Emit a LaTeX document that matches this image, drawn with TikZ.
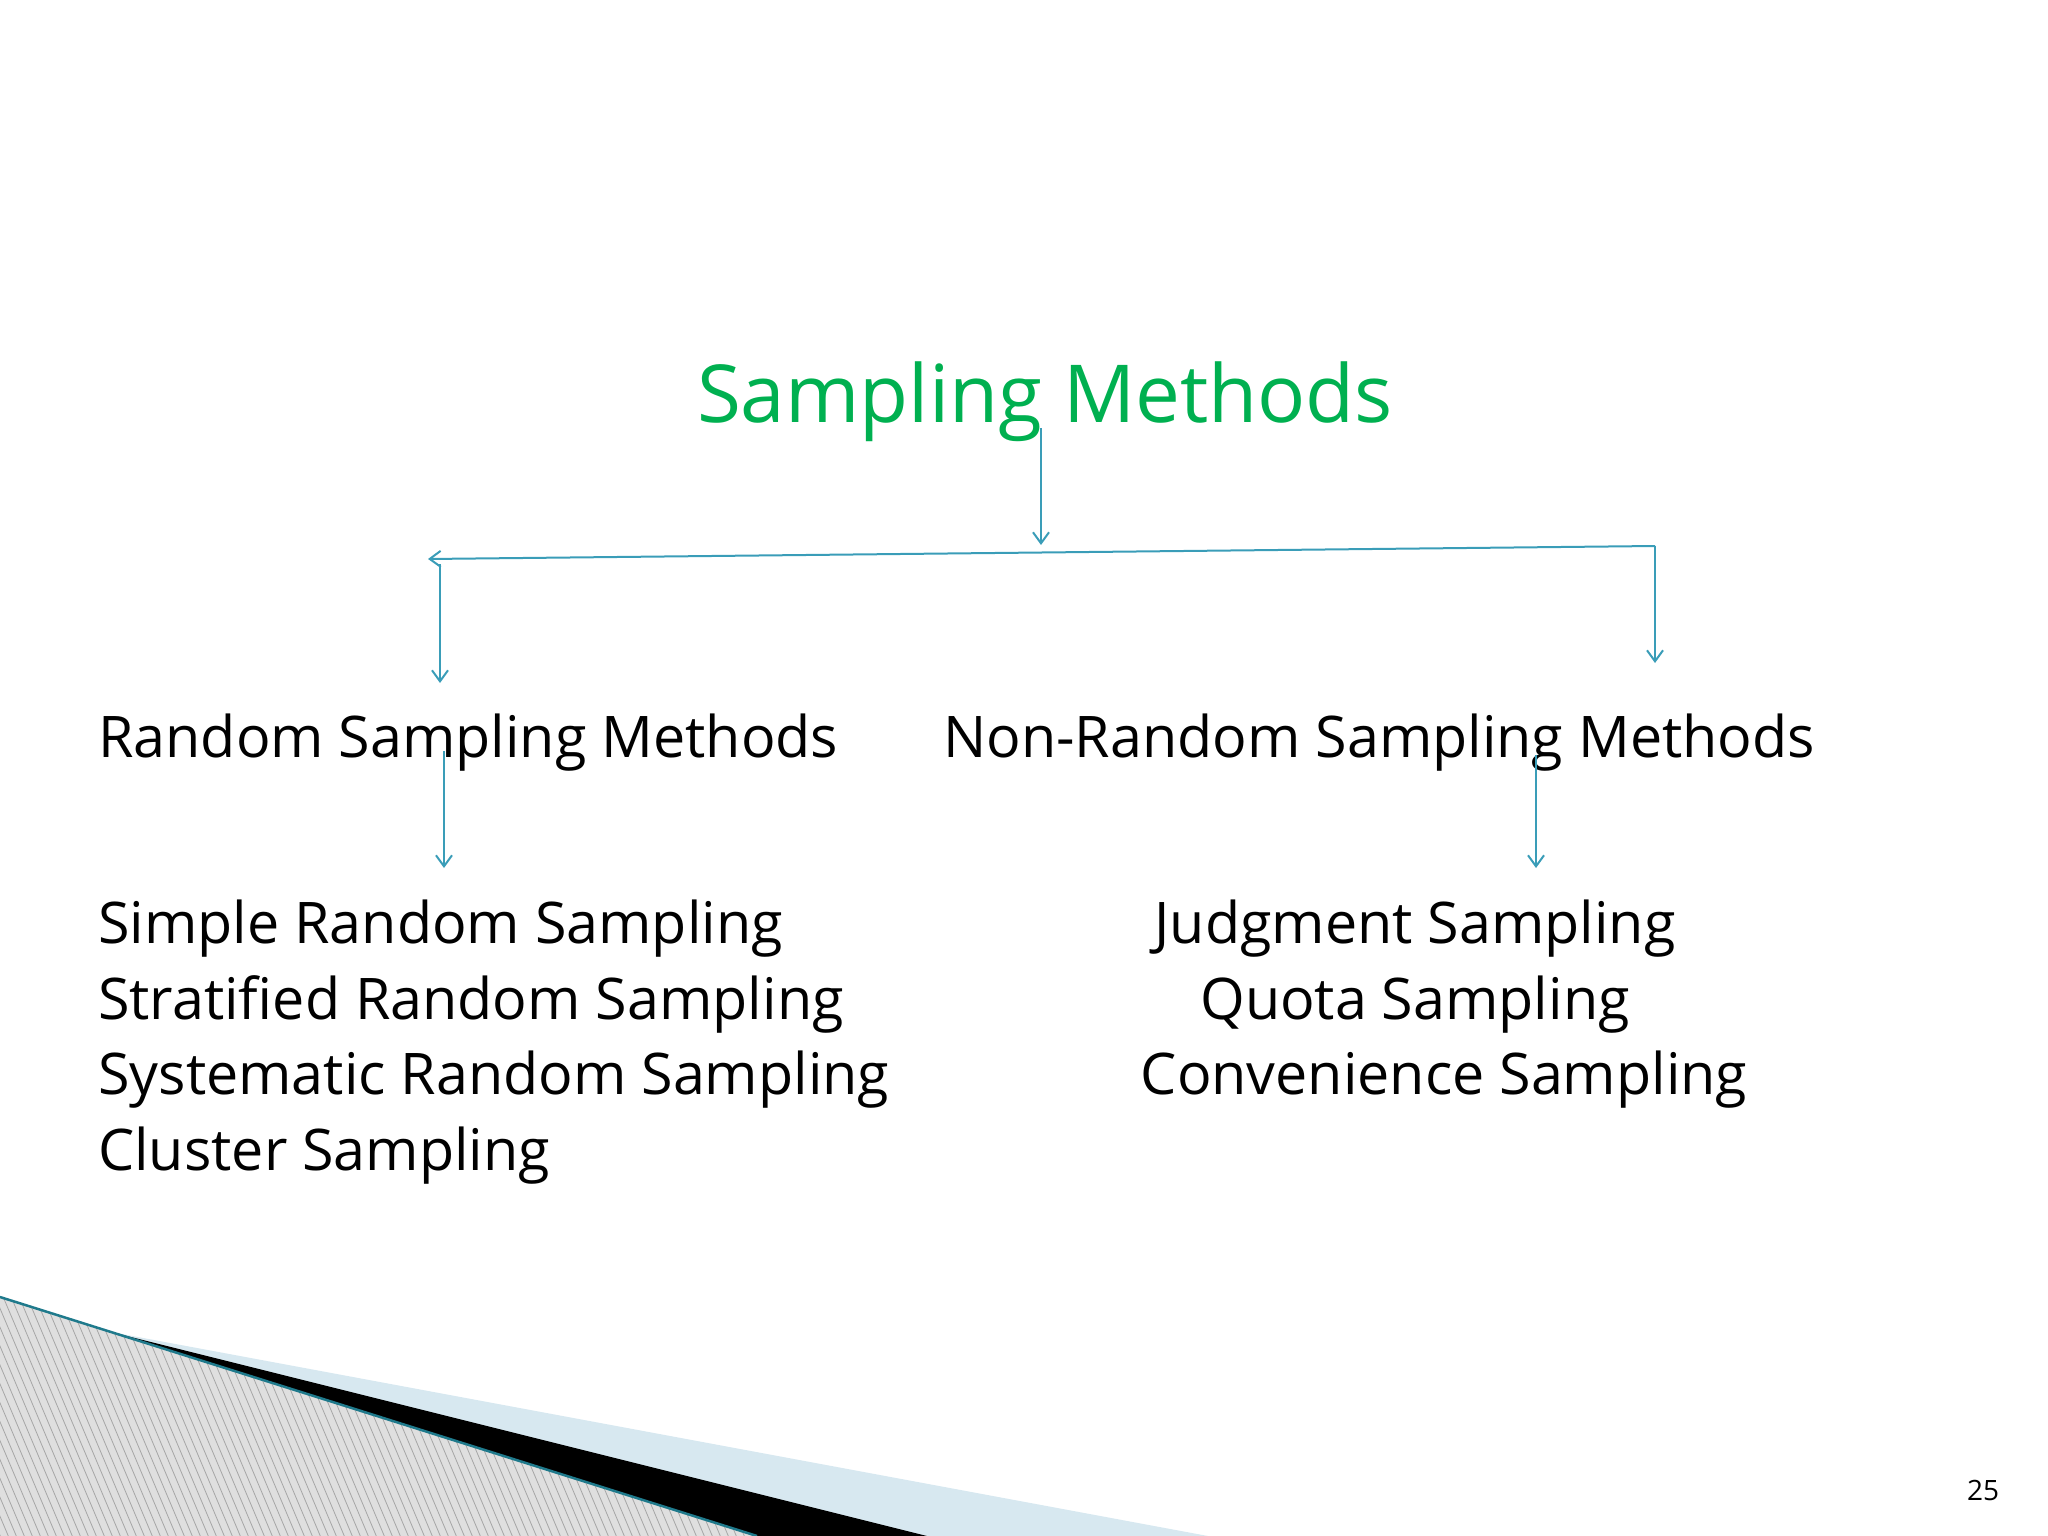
\documentclass[tikz,border=0pt]{standalone}
\usepackage{fontspec}
\setmainfont{Open Sans}
\usetikzlibrary{arrows.meta,patterns}
\definecolor{arr}{HTML}{3A9DB8}
\definecolor{ttl}{HTML}{00B050}
\definecolor{lblue}{HTML}{D7E8F0}
\definecolor{tealedge}{HTML}{1F7A8C}
\tikzset{
  body/.style={font=\fontsize{57.4}{76}\selectfont, inner sep=0pt, anchor=base west},
  bodyc/.style={font=\fontsize{57.4}{76}\selectfont, inner sep=0pt, anchor=base},
  conn/.style={draw=arr, line width=2pt, -{Straight Barb[length=11pt,width=16pt,line width=2pt]}},
}
\begin{document}
\begin{tikzpicture}[x=1pt,y=-1pt]
\useasboundingbox (0,0) rectangle (2048,1536);
% decoration
\fill[lblue] (111,1332) -- (1208,1536) -- (757,1536) -- cycle;
\fill[gray!25] (0,1297) -- (111,1332) -- (757,1536) -- (0,1536) -- cycle;
\begin{scope}
\clip (0,1297) -- (111,1332) -- (757,1536) -- (0,1536) -- cycle;
\foreach \i in {-300,-292,...,760} \draw[gray!70, line width=0.8pt] (\i,1280) -- (\i+110,1540);
\end{scope}
\fill[black] (111,1332) -- (927,1536) -- (757,1536) -- cycle;
\draw[tealedge, line width=2.5pt] (0,1297) -- (111,1332) -- (757,1536);
% texts
\node[font=\fontsize{80}{96}\selectfont, text=ttl, inner sep=0pt, anchor=base] (title) at (1045,422) {Sampling Methods};
\node[body] (rand) at (98,757) {Random Sampling Methods};
\node[body] (nonr) at (943,757) {Non-Random Sampling Methods};
\node[body, align=left, anchor=base west] (r1) at (98,943) {Simple Random Sampling};
\node[body] (r2) at (98,1019) {Stratified Random Sampling};
\node[body] (r3) at (98,1094) {Systematic Random Sampling};
\node[body] (r4) at (98,1170) {Cluster Sampling};
\node[bodyc] (j) at (1415,943) {Judgment Sampling};
\node[bodyc] (q) at (1415,1019) {Quota Sampling};
\node[bodyc] (c) at (1444,1094) {Convenience Sampling};
\node[font=\fontsize{28}{32}\selectfont, inner sep=0pt, anchor=base] (pg) at (1983,1500) {25};
% connectors
\coordinate (t0) at (1041,428);
\coordinate (t1) at (1041,545);
\coordinate (hr) at (1655,546);
\coordinate (hl) at (428,559);
\coordinate (l0) at (440,564);
\coordinate (l1) at (440,683);
\coordinate (rr1) at (1655,663);
\coordinate (a0) at (444,751);
\coordinate (a1) at (444,868);
\coordinate (b0) at (1536,755);
\coordinate (b1) at (1536,868);
\draw[conn] (t0) -- (t1);
\draw[conn] (hr) -- (hl);
\draw[conn] (l0) -- (l1);
\draw[conn] (hr) -- (rr1);
\draw[conn] (a0) -- (a1);
\draw[conn] (b0) -- (b1);
\end{tikzpicture}
\end{document}
